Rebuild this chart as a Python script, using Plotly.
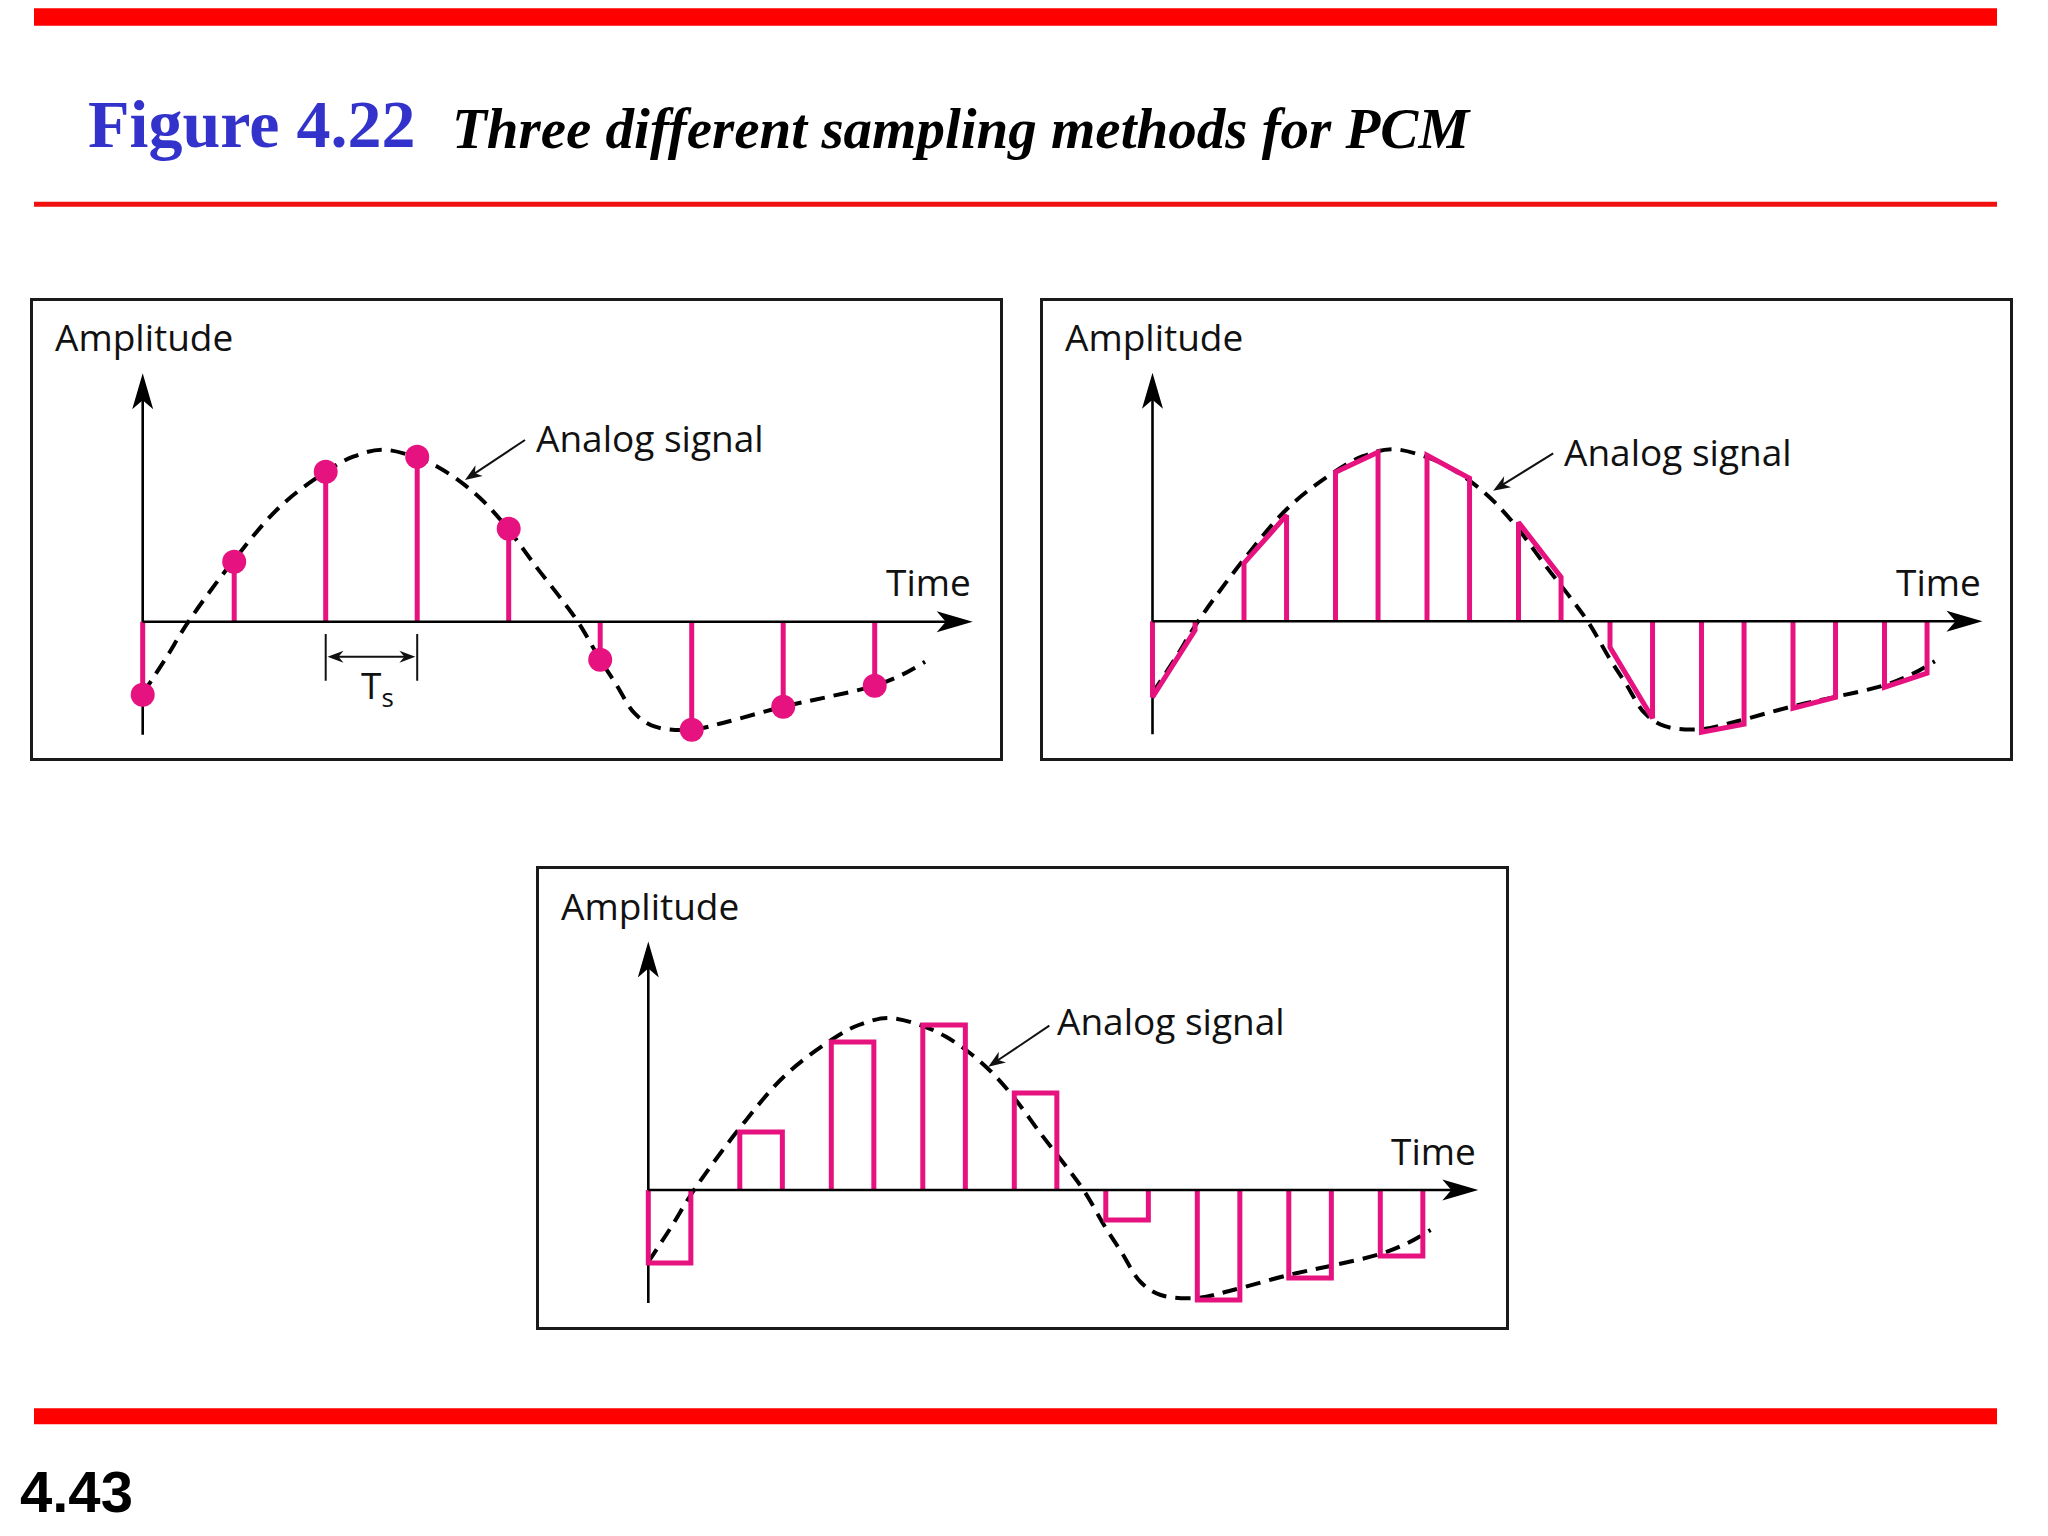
import math
import plotly.graph_objects as go

W, H = 2048, 1536

# sample instants, in units of Ts
sample_t = [0, 1, 2, 3, 4, 5, 6, 7, 8]

# analog signal (time in Ts, amplitude in arbitrary units)
signal_t = [0, 0.25, 0.5, 1.0, 1.5, 2.0, 2.3, 2.62, 3.0, 3.24, 3.5, 3.75, 4.0, 4.3,
            4.58, 4.77, 5.0, 5.17, 5.38, 5.6, 6.0, 6.35, 7.0, 7.5, 8.0, 8.3, 8.55]
signal_a = [-0.72, -0.37, 0.0, 0.62, 1.15, 1.50, 1.65, 1.72, 1.64, 1.54, 1.38, 1.18, 0.92, 0.55,
            0.22, -0.02, -0.38, -0.62, -0.92, -1.05, -1.08, -1.01, -0.85, -0.75, -0.64, -0.53, -0.40]

# a. ideal sampling: impulse heights
ideal_a = [-0.73, 0.60, 1.50, 1.65, 0.93, -0.38, -1.08, -0.85, -0.64]

# b. natural sampling: pulse top at start and end of each pulse
natural_start_a = [-0.76, 0.58, 1.49, 1.66, 0.99, -0.26, -1.11, -0.87, -0.66]
natural_end_a = [-0.09, 1.06, 1.69, 1.43, 0.44, -0.97, -1.03, -0.76, -0.52]

# c. flat-top sampling: held values
flat_a = [-0.73, 0.58, 1.48, 1.65, 0.97, -0.30, -1.10, -0.88, -0.66]

pulse_width = 0.465

captions = ["a. Ideal sampling", "b. Natural sampling", "c. Flat-top sampling"]

# ---- layout helpers (pixels of the 2048x1536 page) ----
PAGE_OFF = 8  # the page body margin shifts the figure by this much
T_PX, A_PX = 91.5, 100.0
LEFT, RIGHT, TOP, BOTTOM = 109.7, 857.3, 320.7, 136.5
origins = [(142.7, 621.7), (1152.5, 621.2), (648.3, 1190.0)]
caption_dx = [-107.7, -97.5, -104.8]
analog_label = [(4.28, 1.845, 4.178, 1.817, 3.522, 1.417),
                (4.47, 1.695, 4.379, 1.679, 3.723, 1.305),
                (4.445, 1.70, 4.383, 1.643, 3.716, 1.233)]

PINK = "#e6127f"
INK = "#111111"
FONT = "Open Sans"
LBL = 37


def px(x):
    return (x - PAGE_OFF) / W


def py(y):
    return 1 - (y - PAGE_OFF) / H


def arrow_head(xr, yr, tip, tail, length, half, notch, color=INK):
    """Barbed arrowhead drawn in pixels at `tip`, pointing away from `tail`."""
    dx = (tip[0] - tail[0]) * T_PX
    dy = (tip[1] - tail[1]) * A_PX
    d = math.hypot(dx, dy)
    ux, uy = dx / d, dy / d
    nx, ny = -uy, ux
    pts = [(0, 0),
           (-length * ux + half * nx, -length * uy + half * ny),
           (-notch * ux, -notch * uy),
           (-length * ux - half * nx, -length * uy - half * ny)]
    path = "M" + " L".join(f"{a:.2f},{b:.2f}" for a, b in pts) + " Z"
    return dict(type="path", xref=xr, yref=yr, xsizemode="pixel", ysizemode="pixel",
                xanchor=tip[0], yanchor=tip[1], path=path, fillcolor=color,
                line=dict(width=0), layer="above")


fig = go.Figure()
shapes, annotations = [], []

for i, (ox, oy) in enumerate(origins):
    n = "" if i == 0 else str(i + 1)
    xr, yr = "x" + n, "y" + n
    fig.update_layout({
        "xaxis" + n: dict(domain=[px(ox - LEFT), px(ox + RIGHT)],
                          range=[-LEFT / T_PX, RIGHT / T_PX], anchor=yr,
                          showgrid=False, zeroline=False, showticklabels=False, ticks="",
                          showline=True, mirror=True, linecolor="#1a1a1a", linewidth=3),
        "yaxis" + n: dict(domain=[py(oy + BOTTOM), py(oy - TOP)],
                          range=[-BOTTOM / A_PX, TOP / A_PX], anchor=xr,
                          showgrid=False, zeroline=False, showticklabels=False, ticks="",
                          showline=True, mirror=True, linecolor="#1a1a1a", linewidth=3),
    })

    # amplitude axis (under the pulses) and time axis (over them)
    t_end = 830 / T_PX
    shapes.append(dict(type="line", xref=xr, yref=yr, x0=0, x1=0, y0=-1.13, y1=2.30,
                       line=dict(color="black", width=2.6), layer="below"))
    shapes.append(arrow_head(xr, yr, (0, 2.484), (0, 0), 36, 10.5, 27, "black"))
    shapes.append(dict(type="line", xref=xr, yref=yr, x0=0, x1=t_end - 0.25, y0=0, y1=0,
                       line=dict(color="black", width=2.6), layer="above"))
    shapes.append(arrow_head(xr, yr, (t_end, 0), (0, 0), 36, 10.5, 27, "black"))

    # analog signal
    fig.add_trace(go.Scatter(x=signal_t, y=signal_a, mode="lines", xaxis=xr, yaxis=yr,
                             line=dict(color="black", width=4, dash="15px,9px", shape="spline"),
                             hoverinfo="skip"))

    # samples
    xs, ys = [], []
    for k, t in enumerate(sample_t):
        if i == 0:
            xs += [t, t, None]
            ys += [0, ideal_a[k], None]
        elif i == 1:
            xs += [t, t, t + pulse_width, t + pulse_width, None]
            ys += [0, natural_start_a[k], natural_end_a[k], 0, None]
        else:
            xs += [t, t, t + pulse_width, t + pulse_width, None]
            ys += [0, flat_a[k], flat_a[k], 0, None]
    fig.add_trace(go.Scatter(x=xs, y=ys, mode="lines", xaxis=xr, yaxis=yr,
                             line=dict(color=PINK, width=5), hoverinfo="skip"))
    if i == 0:
        fig.add_trace(go.Scatter(x=sample_t, y=ideal_a, mode="markers", xaxis=xr, yaxis=yr,
                                 marker=dict(color=PINK, size=24, line=dict(width=0)),
                                 hoverinfo="skip"))

    # labels
    annotations.append(dict(text="Amplitude", xref=xr, yref=yr, x=-89.3 / T_PX, y=2.85,
                            xanchor="left", yanchor="middle", showarrow=False,
                            font=dict(family=FONT, size=LBL, color=INK)))
    annotations.append(dict(text="Time", xref=xr, yref=yr, x=t_end, y=0.40,
                            xanchor="right", yanchor="middle", showarrow=False,
                            font=dict(family=FONT, size=LBL, color=INK)))
    annotations.append(dict(text=captions[i], xref=xr, yref=yr, x=caption_dx[i] / T_PX, y=-1.68,
                            xanchor="left", yanchor="middle", showarrow=False,
                            font=dict(family=FONT, size=LBL, color=INK)))
    lx, ly, tx, ty, hx, hy = analog_label[i]
    annotations.append(dict(text="Analog signal", xref=xr, yref=yr, x=lx, y=ly,
                            xanchor="left", yanchor="middle", showarrow=False,
                            font=dict(family=FONT, size=LBL, color=INK)))
    shapes.append(dict(type="line", xref=xr, yref=yr, x0=tx, y0=ty,
                       x1=hx + (tx - hx) * 0.12, y1=hy + (ty - hy) * 0.12,
                       line=dict(color=INK, width=2), layer="above"))
    shapes.append(arrow_head(xr, yr, (hx, hy), (tx, ty), 17, 6.5, 12))

    if i == 0:
        # Ts marker between two samples
        for t in (2, 3):
            shapes.append(dict(type="line", xref=xr, yref=yr, x0=t, x1=t, y0=-0.123, y1=-0.59,
                               line=dict(color=INK, width=2)))
        shapes.append(dict(type="line", xref=xr, yref=yr, x0=2.1, x1=2.9, y0=-0.35, y1=-0.35,
                           line=dict(color=INK, width=2)))
        shapes.append(arrow_head(xr, yr, (2.02, -0.35), (3, -0.35), 16, 6, 11))
        shapes.append(arrow_head(xr, yr, (2.98, -0.35), (2, -0.35), 16, 6, 11))
        annotations.append(dict(text="T<sub>s</sub>", xref=xr, yref=yr, x=2.36, y=-0.656,
                                xanchor="left", yanchor="middle", showarrow=False,
                                font=dict(family=FONT, size=LBL, color=INK)))

# red rules
for y0, y1, col in [(8.3, 25.7, "#ff0000"), (201.7, 206.7, "#f01010"), (1408.3, 1424.3, "#ff0000")]:
    shapes.append(dict(type="rect", xref="paper", yref="paper", x0=px(34), x1=px(1997),
                       y0=py(y1), y1=py(y0), fillcolor=col, line=dict(width=0)))

# title and slide number
annotations.append(dict(text="<b>Figure 4.22</b>", xref="paper", yref="paper", x=px(86),
                        y=py(124.2), xanchor="left", yanchor="middle", showarrow=False,
                        font=dict(family="Liberation Serif", size=68, color="#3333cc")))
annotations.append(dict(text="<b><i>Three different sampling methods for PCM</i></b>",
                        xref="paper", yref="paper", x=px(450), y=py(128.4),
                        xanchor="left", yanchor="middle", showarrow=False,
                        font=dict(family="Liberation Serif", size=57, color="black")))
annotations.append(dict(text="<b>4.43</b>", xref="paper", yref="paper", x=px(18),
                        y=py(1491), xanchor="left", yanchor="middle", showarrow=False,
                        font=dict(family="Liberation Sans", size=58, color="black")))

fig.update_layout(
    width=W, height=H,
    margin=dict(l=0, r=0, t=0, b=0),
    paper_bgcolor="white", plot_bgcolor="white",
    showlegend=False,
    shapes=shapes, annotations=annotations,
    font=dict(family=FONT),
)

fig.write_html("out.html")
